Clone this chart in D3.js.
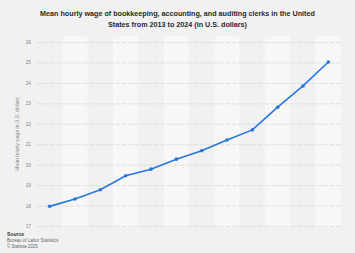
<!DOCTYPE html>
<html>
<head>
<meta charset="utf-8">
<script src="https://cdn.jsdelivr.net/npm/d3@7"></script>
<style>
  body { margin: 0; background: #f1f1f1; }
  svg { display: block; font-family: 'Liberation Sans', Arial, sans-serif; }
</style>
</head>
<body>
<svg></svg>
<script>
// chart data
var years = ['2013', '2014', '2015', '2016', '2017', '2018', '2019', '2020', '2021', '2022', '2023', '2024'];
var wages = [17.96, 18.32, 18.77, 19.46, 19.78, 20.27, 20.68, 21.21, 21.70, 22.81, 23.85, 25.02];
var yTicks = [17, 18, 19, 20, 21, 22, 23, 24, 25, 26];

var width = 355;
var height = 253;
var padding = { top: 42, right: 14, bottom: 27, left: 37 };

var svg = d3.select('svg')
  .attr('width', width)
  .attr('height', height);

svg.append('rect')
  .attr('width', width)
  .attr('height', height)
  .style('fill', '#f1f1f1');

var xScale = d3.scaleBand()
  .domain(years)
  .range([padding.left, width - padding.right])
  .padding(0);

var yScale = d3.scaleLinear()
  .domain([17, 26])
  .range([height - padding.bottom, padding.top]);

// alternating column bands
svg.append('g')
  .selectAll('rect')
  .data(years)
  .enter()
  .append('rect')
    .attr('x', d => xScale(d))
    .attr('y', padding.top - 6)
    .attr('width', xScale.bandwidth())
    .attr('height', height - padding.bottom - padding.top + 8)
    .style('fill', (d, i) => i % 2 ? '#f7f7f7' : '#f1f1f1');

// y axis with gridlines
var yAxis = d3.axisLeft(yScale)
  .tickValues(yTicks)
  .tickSize(-(width - padding.left - padding.right))
  .tickPadding(6)
  .tickFormat(d3.format('d'));

var yG = svg.append('g')
  .attr('transform', 'translate(' + padding.left + ',0)')
  .call(yAxis);
yG.select('.domain').remove();
yG.selectAll('line')
  .style('stroke', '#d9d9d9')
  .style('stroke-width', 0.8)
  .style('stroke-dasharray', '5,1.5');
yG.selectAll('text')
  .style('font-size', '4.8px')
  .style('fill', '#888')
  .attr('font-family', null);

// line
var line = d3.line()
  .x((d, i) => xScale(years[i]) + xScale.bandwidth() / 2)
  .y(d => yScale(d));

svg.append('path')
  .datum(wages)
  .attr('d', line)
  .style('fill', 'none')
  .style('stroke', '#2876dd')
  .style('stroke-width', 1.6);

svg.append('g')
  .selectAll('circle')
  .data(wages)
  .enter()
  .append('circle')
    .attr('cx', (d, i) => xScale(years[i]) + xScale.bandwidth() / 2)
    .attr('cy', d => yScale(d))
    .attr('r', 1.8)
    .style('fill', '#2876dd');

// title
svg.append('text')
  .attr('x', width / 2)
  .attr('y', 15.5)
  .attr('text-anchor', 'middle')
  .style('font-size', '7.2px')
  .style('font-weight', 'bold')
  .style('fill', '#2a2a2a')
  .text('Mean hourly wage of bookkeeping, accounting, and auditing clerks in the United');
svg.append('text')
  .attr('x', width / 2)
  .attr('y', 26.5)
  .attr('text-anchor', 'middle')
  .style('font-size', '7.2px')
  .style('font-weight', 'bold')
  .style('fill', '#2a2a2a')
  .text('States from 2013 to 2024 (in U.S. dollars)');

// y axis label
svg.append('text')
  .attr('transform', 'translate(19,' + 134 + ') rotate(-90)')
  .attr('text-anchor', 'middle')
  .style('font-size', '5px')
  .style('fill', '#888')
  .text('Mean hourly wage in U.S. dollars');

// source
svg.append('text')
  .attr('x', 7).attr('y', 236)
  .style('font-size', '5px')
  .style('font-weight', 'bold')
  .style('fill', '#333')
  .text('Source');
svg.append('text')
  .attr('x', 7).attr('y', 242)
  .style('font-size', '4.5px')
  .style('fill', '#666')
  .text('Bureau of Labor Statistics');
svg.append('text')
  .attr('x', 7).attr('y', 248)
  .style('font-size', '4.5px')
  .style('fill', '#666')
  .text('© Statista 2025');
</script>
</body>
</html>
